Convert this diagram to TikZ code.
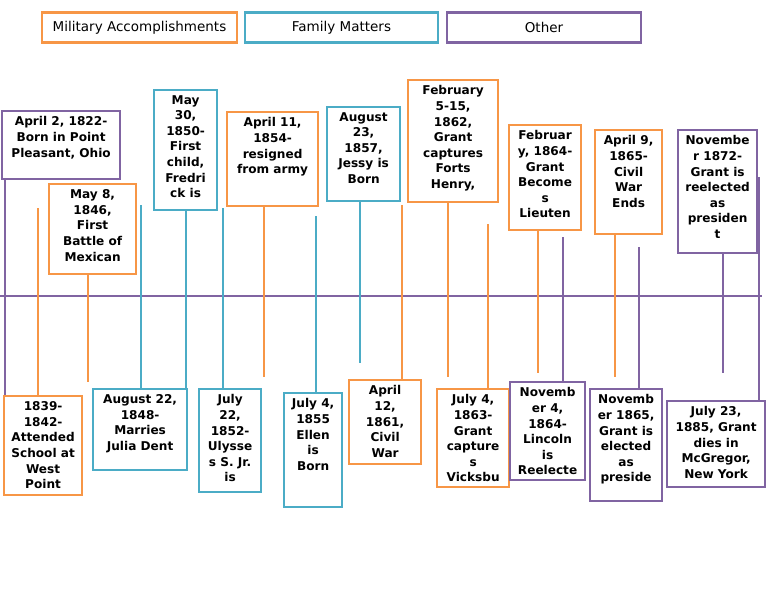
\documentclass[tikz,border=0pt]{standalone}
\usepackage{fontspec}
\setmainfont{DejaVu Sans}
\definecolor{MilOrange}{HTML}{F79646}
\definecolor{FamTeal}{HTML}{4BACC6}
\definecolor{OtherPurple}{HTML}{8064A2}
\usepackage{tikz}

\begin{document}
\begin{tikzpicture}[x=1pt, y=-1pt,
    legend/.style={draw=#1, line width=2.2pt, minimum height=30pt, inner sep=0pt,
      font=\fontsize{13.5}{15}\selectfont},
    evbox/.style={draw=#1, line width=2.2pt, inner sep=0pt, anchor=north west},
    evtext/.style={anchor=north, align=center, inner sep=1pt,
      font=\fontsize{12.1}{15.6}\selectfont\bfseries},
    conn/.style={draw=#1, line width=1.9pt}]
    \useasboundingbox (0,0) rectangle (768,594);

    % Legend
    \node[legend=MilOrange, minimum width=195pt] (legmil) at (139.5,27.5) {Military Accomplishments};
    \node[legend=FamTeal, minimum width=193pt] (legfam) at (341.5,27.5) {Family Matters};
    \node[legend=OtherPurple, minimum width=194pt] (legother) at (544,27.5) {Other};

    % Timeline
    \coordinate (tlstart) at (0,296);
    \coordinate (tlend) at (762,296);
    \draw[conn=OtherPurple] (tlstart) -- (tlend);

    % Events above the line
    \node[evbox=OtherPurple, minimum width=118pt, minimum height=68pt] (birth) at (1,110) {};
    \node[evtext] (birthtxt) at ([yshift=-5.5pt]birth.north) {April 2, 1822-\\Born in Point\\Pleasant, Ohio};

    \node[evbox=MilOrange, minimum width=87pt, minimum height=90pt] (mexwar) at (48,183) {};
    \node[evtext] (mexwartxt) at ([yshift=-5.5pt]mexwar.north) {May 8,\\1846,\\First\\Battle of\\Mexican};

    \node[evbox=FamTeal, minimum width=63pt, minimum height=120pt] (fred) at (153,89) {};
    \node[evtext] (fredtxt) at ([yshift=-5pt]fred.north) {May\\30,\\1850-\\First\\child,\\Fredri\\ck is};

    \node[evbox=MilOrange, minimum width=91pt, minimum height=94pt] (resign) at (226,111) {};
    \node[evtext] (resigntxt) at ([yshift=-5.5pt]resign.north) {April 11,\\1854-\\resigned\\from army};

    \node[evbox=FamTeal, minimum width=73pt, minimum height=94pt] (jessy) at (326,106) {};
    \node[evtext] (jessytxt) at ([yshift=-5pt]jessy.north) {August\\23,\\1857,\\Jessy is\\Born};

    \node[evbox=MilOrange, minimum width=90pt, minimum height=122pt] (forts) at (407,79) {};
    \node[evtext] (fortstxt) at ([yshift=-5.5pt]forts.north) {February\\5-15,\\1862,\\Grant\\captures\\Forts\\Henry,};

    \node[evbox=MilOrange, minimum width=72pt, minimum height=105pt] (lieut) at (508,124) {};
    \node[evtext] (lieuttxt) at ([yshift=-5.5pt]lieut.north) {Februar\\y, 1864-\\Grant\\Become\\s\\Lieuten};

    \node[evbox=MilOrange, minimum width=67pt, minimum height=104pt] (warend) at (594,129) {};
    \node[evtext] (warendtxt) at ([yshift=-5.5pt]warend.north) {April 9,\\1865-\\Civil\\War\\Ends};

    \node[evbox=OtherPurple, minimum width=79pt, minimum height=123pt] (reelect) at (677,129) {};
    \node[evtext] (reelecttxt) at ([yshift=-5.5pt]reelect.north) {Novembe\\r 1872-\\Grant is\\reelected\\as\\presiden\\t};

    % Events below the line
    \node[evbox=MilOrange, minimum width=78pt, minimum height=99pt] (school) at (3,395) {};
    \node[evtext] (schooltxt) at ([yshift=-5.5pt]school.north) {1839-\\1842-\\Attended\\School at\\West\\Point};

    \node[evbox=FamTeal, minimum width=94pt, minimum height=81pt] (marry) at (92,388) {};
    \node[evtext] (marrytxt) at ([yshift=-5.5pt]marry.north) {August 22,\\1848-\\Marries\\Julia Dent};

    \node[evbox=FamTeal, minimum width=62pt, minimum height=103pt] (ulysses) at (198,388) {};
    \node[evtext] (ulyssestxt) at ([yshift=-5.5pt]ulysses.north) {July\\22,\\1852-\\Ulysse\\s S. Jr.\\is};

    \node[evbox=FamTeal, minimum width=58pt, minimum height=114pt] (ellen) at (283,392) {};
    \node[evtext] (ellentxt) at ([yshift=-5.5pt]ellen.north) {July 4,\\1855\\Ellen\\is\\Born};

    \node[evbox=MilOrange, minimum width=72pt, minimum height=84pt] (civwar) at (348,379) {};
    \node[evtext] (civwartxt) at ([yshift=-5.5pt]civwar.north) {April\\12,\\1861,\\Civil\\War};

    \node[evbox=MilOrange, minimum width=72pt, minimum height=98pt] (vicks) at (436,388) {};
    \node[evtext] (vickstxt) at ([yshift=-5.5pt]vicks.north) {July 4,\\1863-\\Grant\\capture\\s\\Vicksbu};

    \node[evbox=OtherPurple, minimum width=75pt, minimum height=98pt] (lincoln) at (509,381) {};
    \node[evtext] (lincolntxt) at ([yshift=-5.5pt]lincoln.north) {Novemb\\er 4,\\1864-\\Lincoln\\is\\Reelecte};

    \node[evbox=OtherPurple, minimum width=72pt, minimum height=112pt] (elected) at (589,388) {};
    \node[evtext] (electedtxt) at ([yshift=-5.5pt]elected.north) {Novemb\\er 1865,\\Grant is\\elected\\as\\preside};

    \node[evbox=OtherPurple, minimum width=98pt, minimum height=86pt] (death) at (666,400) {};
    \node[evtext] (deathtxt) at ([yshift=-5.5pt]death.north) {July 23,\\1885, Grant\\dies in\\McGregor,\\New York};

    % Connectors
    \coordinate (birthfoot) at ([xshift=4pt]birth.south west);
    \draw[conn=OtherPurple] (birthfoot) -- (birthfoot |- school.north);
    \coordinate (schooltop) at (38,208);
    \draw[conn=MilOrange] (schooltop) -- (schooltop |- school.north);
    \coordinate (mexwarend) at (88,382);
    \draw[conn=MilOrange] (mexwar.south -| mexwarend) -- (mexwarend);
    \coordinate (marrytop) at (141,205);
    \draw[conn=FamTeal] (marrytop) -- (marrytop |- marry.north);
    \draw[conn=FamTeal] (fred.south) -- (fred.south |- marry.north);
    \coordinate (ulyssestop) at (223,208);
    \draw[conn=FamTeal] (ulyssestop) -- (ulyssestop |- ulysses.north);
    \coordinate (resignend) at (264,377);
    \draw[conn=MilOrange] (resign.south -| resignend) -- (resignend);
    \coordinate (ellentop) at (316,216);
    \draw[conn=FamTeal] (ellentop) -- (ellentop |- ellen.north);
    \coordinate (jessyend) at (360,363);
    \draw[conn=FamTeal] (jessy.south -| jessyend) -- (jessyend);
    \coordinate (civwartop) at (402,205);
    \draw[conn=MilOrange] (civwartop) -- (civwartop |- civwar.north);
    \coordinate (fortsend) at (448,377);
    \draw[conn=MilOrange] (forts.south -| fortsend) -- (fortsend);
    \coordinate (vickstop) at (488,224);
    \draw[conn=MilOrange] (vickstop) -- (vickstop |- vicks.north);
    \coordinate (lieutend) at (538,373);
    \draw[conn=MilOrange] (lieut.south -| lieutend) -- (lieutend);
    \coordinate (lincolntop) at (563,237);
    \draw[conn=OtherPurple] (lincolntop) -- (lincolntop |- lincoln.north);
    \coordinate (warendend) at (615,377);
    \draw[conn=MilOrange] (warend.south -| warendend) -- (warendend);
    \coordinate (electedtop) at (639,247);
    \draw[conn=OtherPurple] (electedtop) -- (electedtop |- elected.north);
    \coordinate (reelectend) at (723,373);
    \draw[conn=OtherPurple] (reelect.south -| reelectend) -- (reelectend);
    \coordinate (deathtop) at (759,177);
    \draw[conn=OtherPurple] (deathtop) -- (deathtop |- death.north);
\end{tikzpicture}
\end{document}
